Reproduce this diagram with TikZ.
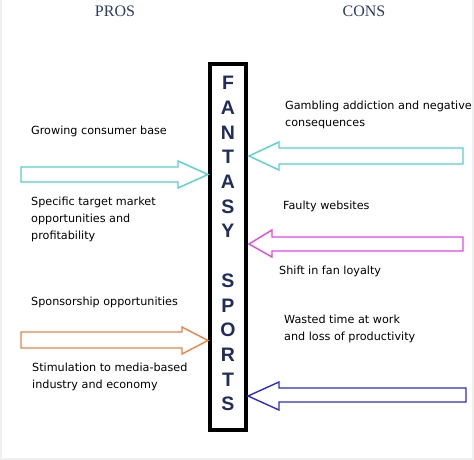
\documentclass[tikz,border=0pt]{standalone}
\usepackage{fontspec}
\setmainfont{DejaVu Sans}
\newfontfamily\headfont{Liberation Serif}
\newfontfamily\boxfont{Liberation Sans}
\definecolor{navy}{HTML}{1E2C5E}
\definecolor{headblue}{HTML}{2B3B6B}
\definecolor{procyan}{HTML}{52D2D0}
\definecolor{conmagenta}{HTML}{E646E6}
\definecolor{proorange}{HTML}{EE8244}
\definecolor{conblue}{HTML}{2A2AD8}
\tikzset{
  pt/.style={font=\fontsize{11.2}{17}\selectfont, anchor=west, align=left, inner sep=0pt},
  head/.style={font=\headfont\fontsize{16}{18}\selectfont, text=headblue},
  letter/.style={font=\boxfont\bfseries\fontsize{19.5}{20}\selectfont, text=navy, inner sep=0pt},
  blockarrow/.style={line width=1.4pt, fill=white, draw=#1}
}
\begin{document}
\begin{tikzpicture}[x=1pt,y=-1pt]
\useasboundingbox (0,0) rectangle (474,460);
\draw[gray!12, line width=2pt] (1,0) -- (1,459) -- (473,459) -- (473,0);

\node[head] (pros) at (115,11) {PROS};
\node[head] (cons) at (364,11) {CONS};

% the central box
\draw[line width=4pt] (210,64) rectangle (246,430);
\foreach \i/\l in {0/F,1/A,2/N,3/T,4/A,5/S,6/Y,8/S,9/P,10/O,11/R,12/T,13/S}
  \node[letter] (l\i) at (228,83+24.7*\i) {\l};

% pros
\node[pt] (p1) at (31,131) {Growing consumer base};
\node[pt] (p2) at (31,219) {Specific target market\\opportunities and\\profitability};
\node[pt] (p3) at (31,302) {Sponsorship opportunities};
\node[pt] (p4) at (32,377) {Stimulation to media-based\\industry and economy};

\draw[blockarrow=procyan] (21,167) -- (178,167) -- (178,161) -- (208,174.5) -- (178,188) -- (178,182) -- (21,182) -- cycle;
\draw[blockarrow=proorange] (21,332) -- (182,332) -- (182,327) -- (208,340.5) -- (182,354) -- (182,348) -- (21,348) -- cycle;

% cons
\node[pt] (c1) at (285,115) {Gambling addiction and negative\\consequences};
\node[pt] (c2) at (283,206) {Faulty websites};
\node[pt] (c3) at (279,271) {Shift in fan loyalty};
\node[pt] (c4) at (284,329) {Wasted time at work\\and loss of productivity};

\draw[blockarrow=procyan] (463,148) -- (279,148) -- (279,142) -- (249,156) -- (279,170) -- (279,164) -- (463,164) -- cycle;
\draw[blockarrow=conmagenta] (463,237) -- (272,237) -- (272,230) -- (249,244) -- (272,257) -- (272,251) -- (463,251) -- cycle;
\draw[blockarrow=conblue] (466,388) -- (279,388) -- (279,382) -- (248,396) -- (279,410) -- (279,402) -- (466,402) -- cycle;
\end{tikzpicture}
\end{document}
